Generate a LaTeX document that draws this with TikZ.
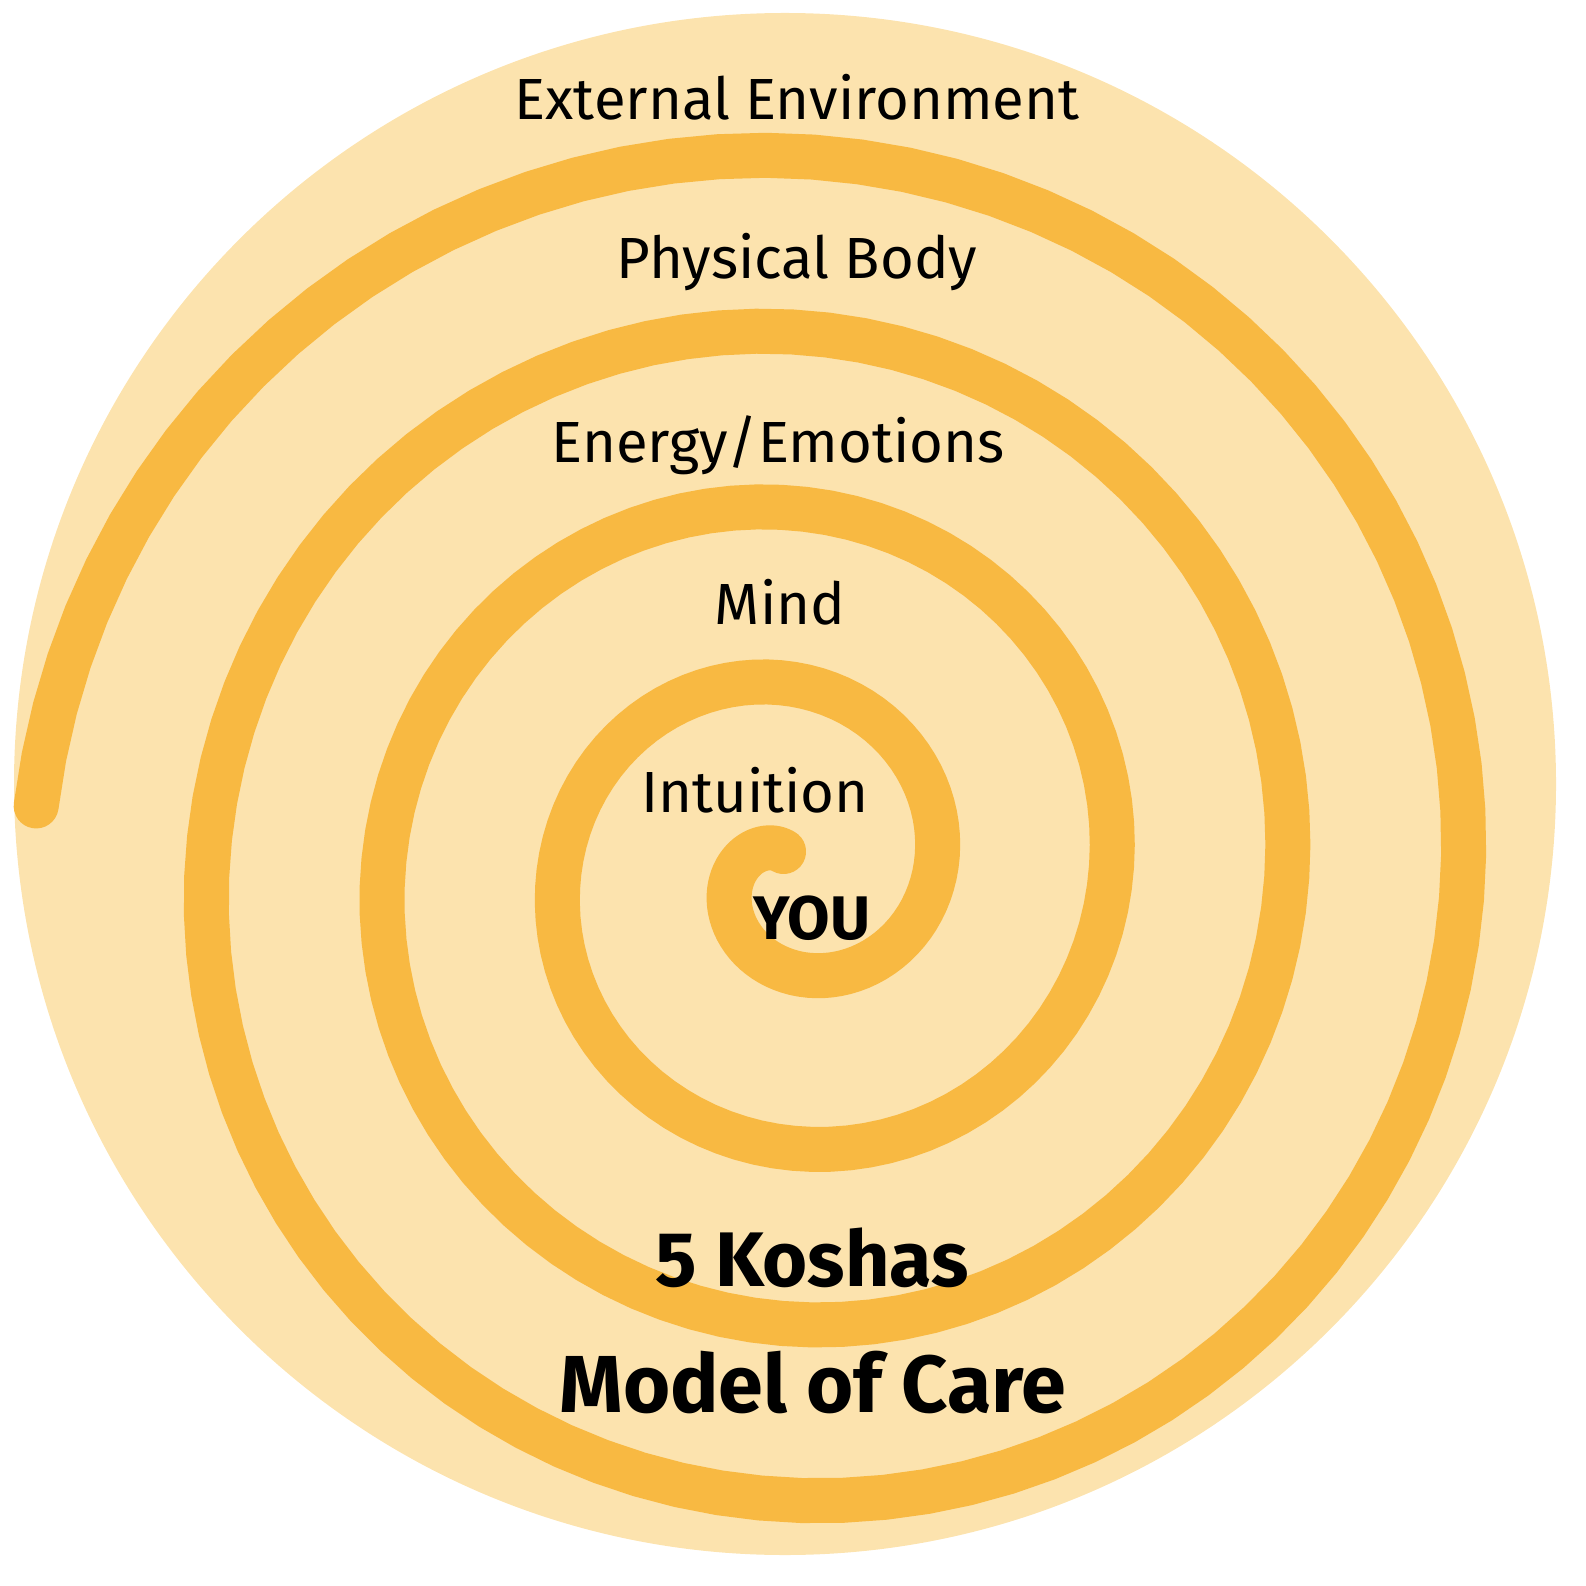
\documentclass[tikz,border=0pt]{standalone}
\usepackage{fontspec}
\setmainfont{Fira Sans}
\definecolor{peach}{HTML}{FCE3AE}
\definecolor{spir}{HTML}{F8B942}
\tikzset{lbl/.style={font=\fontsize{16.5}{20}\selectfont, text=black, inner sep=0pt},
 bold/.style={font=\fontsize{#1}{#1}\selectfont\bfseries, text=black, inner sep=0pt}}
\begin{document}
\begin{tikzpicture}[x=0.01cm,y=-0.01cm]
\useasboundingbox (0,0) rectangle (1586,1586);
\fill[peach] (785,784) circle (771);
\draw[spir, line width=12.8pt, line cap=round, line join=round]
  plot[domain=110:1615, samples=400, variable=\t] ({791+(-32+0.489*\t)*cos(\t)}, {872-(-32+0.489*\t)*sin(\t)});
\node[lbl] (ext) at (797,97) {External Environment};
\node[lbl] (phy) at (797,262) {Physical Body};
\node[lbl] (ene) at (778,445) {Energy/Emotions};
\node[lbl] (mind) at (780,602) {Mind};
\node[lbl] (int) at (755,790) {Intuition};
\node[bold=17.5] (you) at (812,918) {YOU};
\node[bold=22] (kos) at (812,1258) {5 Koshas};
\node[bold=23] (moc) at (813,1382) {Model of Care};
\end{tikzpicture}
\end{document}
